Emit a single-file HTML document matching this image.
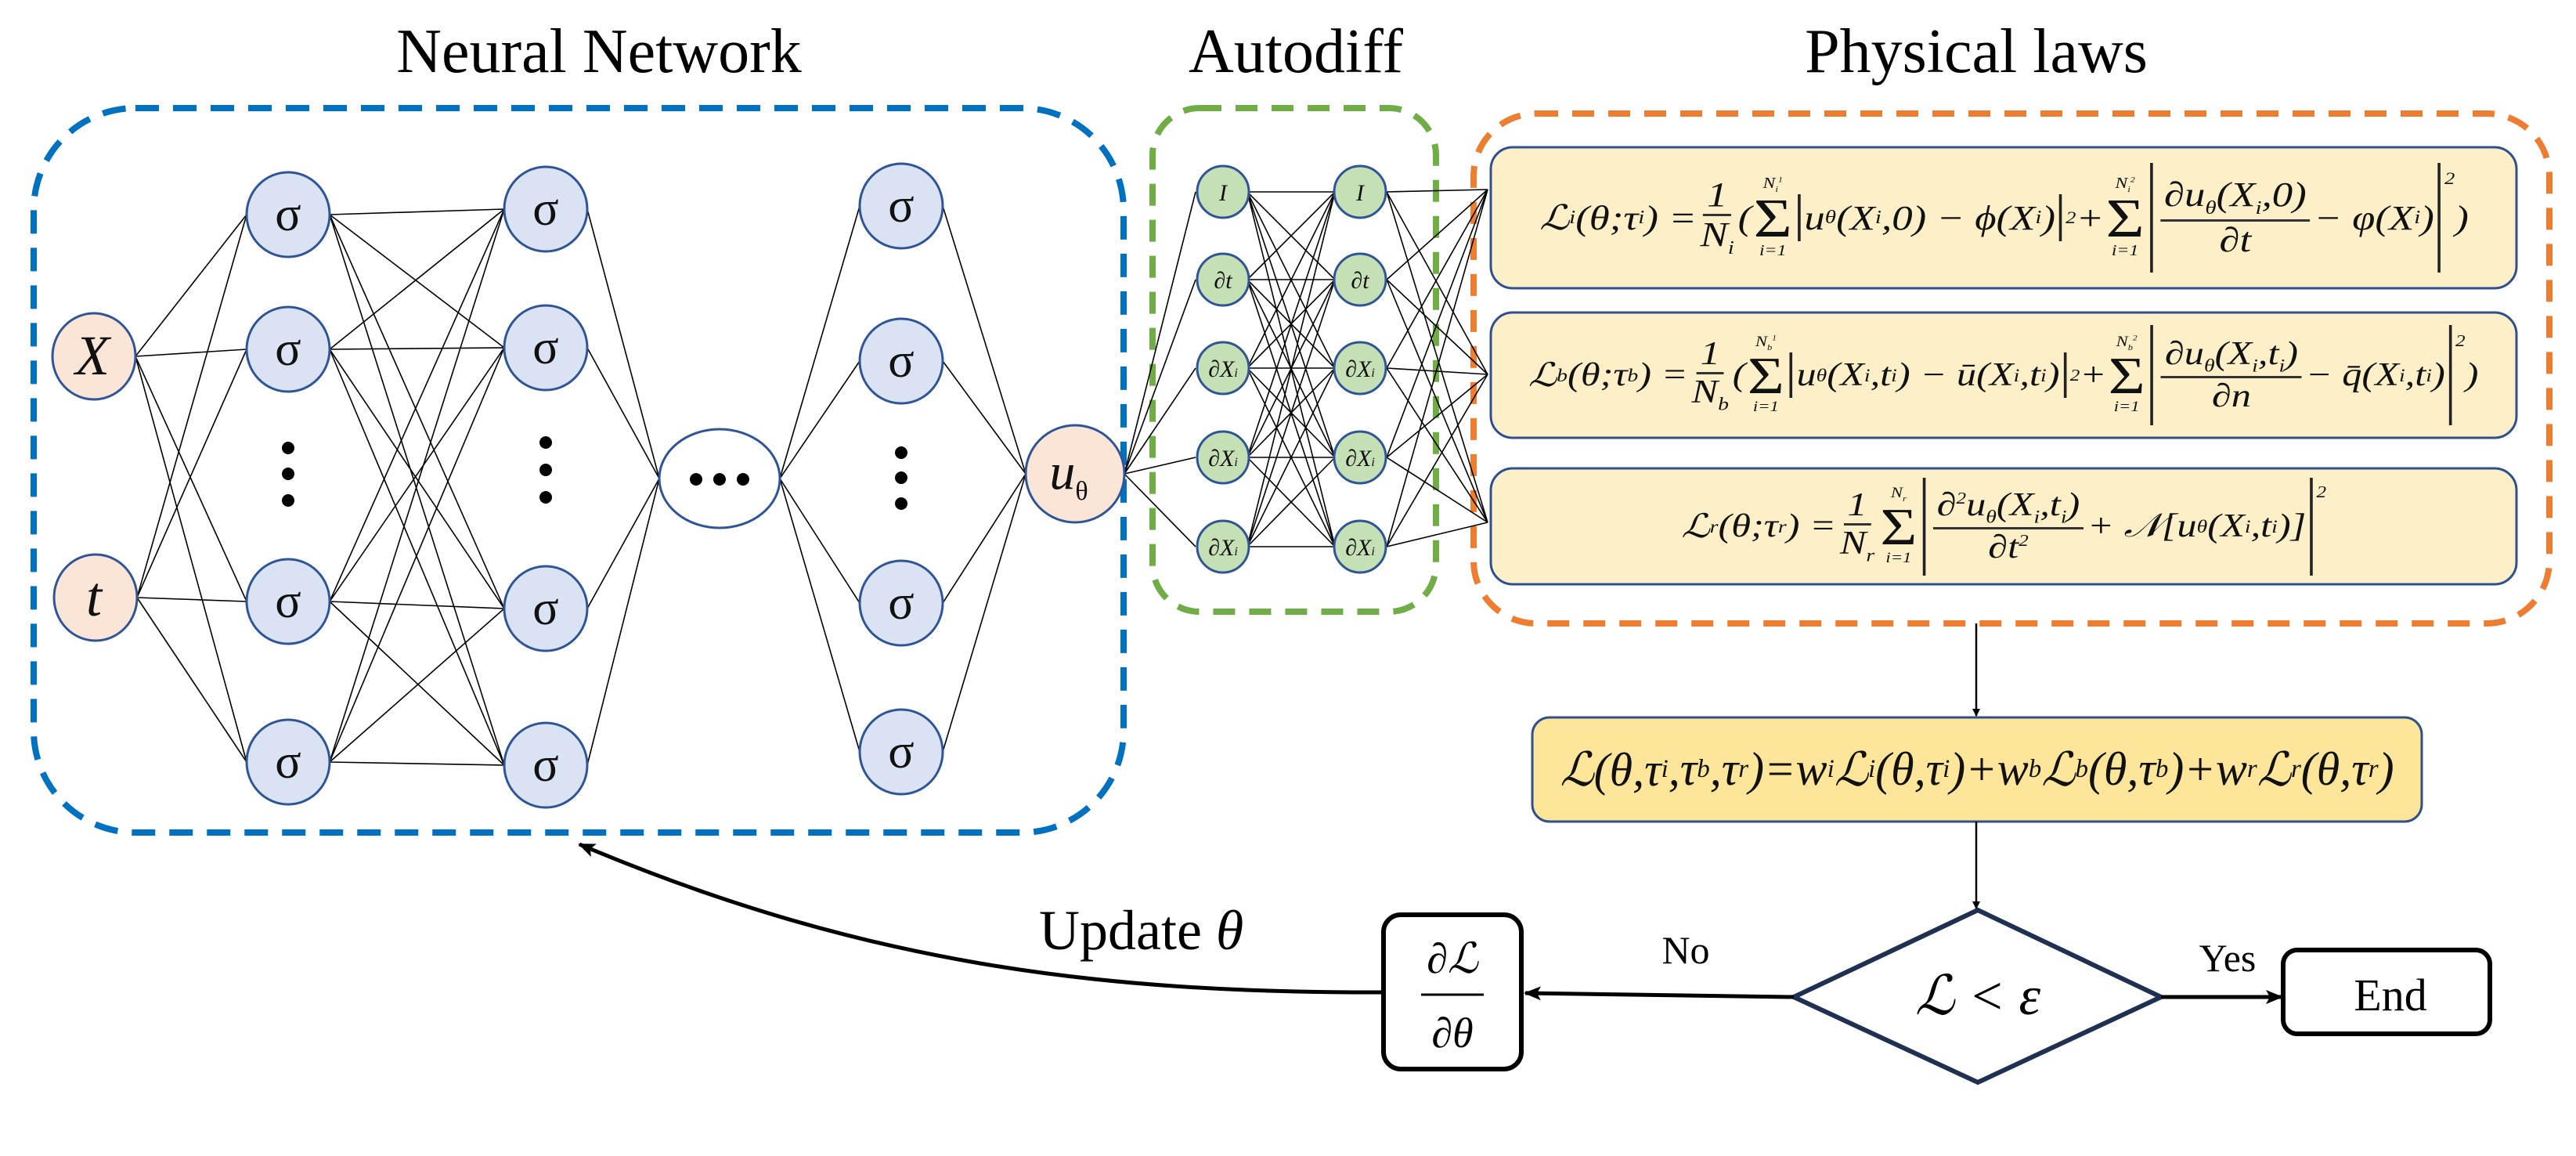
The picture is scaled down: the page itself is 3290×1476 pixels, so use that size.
<!DOCTYPE html>
<html><head><meta charset="utf-8"><style>
html,body{margin:0;padding:0;background:#fff;}
body{width:3290px;height:1476px;position:relative;overflow:hidden;font-family:"Liberation Serif","DejaVu Serif",serif;}
svg text{font-family:"Liberation Serif","DejaVu Serif",serif;}
.f{position:absolute;display:flex;align-items:center;justify-content:center;font-family:"Liberation Serif","DejaVu Serif",serif;font-style:italic;color:#111;white-space:nowrap;}
.f>span.in{display:inline-flex;align-items:center;}
.fr{display:inline-flex;flex-direction:column;align-items:center;vertical-align:middle;margin:0 4px;}
.fr .n{border-bottom:3px solid #333;padding:0 4px;line-height:1.1;}
.fr .d{line-height:1.1;}
.sg{display:inline-flex;flex-direction:column;align-items:center;vertical-align:middle;font-style:normal;margin:0 2px;}
.sg .s{font-size:1.6em;line-height:0.9;}
.sg .l{font-size:0.45em;line-height:1;font-style:italic;}
.bar{display:inline-block;width:3px;background:#222;vertical-align:middle;margin:0 4px;}
sub{font-size:0.55em;}
sup{font-size:0.5em;}
</style></head><body>
<svg width="3290" height="1476" style="position:absolute;left:0;top:0" xmlns="http://www.w3.org/2000/svg">
<defs>
<marker id="ah" markerWidth="10" markerHeight="10" refX="9" refY="5" orient="auto" markerUnits="userSpaceOnUse"><path d="M0,0 L10,5 L0,10 z" fill="#000"/></marker>
<marker id="ah2" markerWidth="22" markerHeight="18" refX="20" refY="9" orient="auto" markerUnits="userSpaceOnUse"><path d="M0,0 L22,9 L0,18 L5,9 z" fill="#000"/></marker>
</defs>
<text x="765" y="92" font-size="80" text-anchor="middle">Neural Network</text>
<text x="1655" y="92" font-size="80" text-anchor="middle">Autodiff</text>
<text x="2524" y="92" font-size="80" text-anchor="middle">Physical laws</text>

<rect x="43" y="138" width="1392" height="925" rx="130" fill="none" stroke="#0070c0" stroke-width="8" stroke-dasharray="30 18"/>
<rect x="1472" y="138" width="362" height="643" rx="60" fill="none" stroke="#70ad47" stroke-width="8" stroke-dasharray="28 18"/>
<rect x="1882" y="145" width="1374" height="651" rx="80" fill="none" stroke="#ed7d31" stroke-width="8" stroke-dasharray="28 18"/>

<g stroke="#000" stroke-width="1.6" fill="none">
<path d="M173 455L315 274M173 455L315 446M173 455L315 768M173 455L315 973M175 763L315 274M175 763L315 446M175 763L315 768M175 763L315 973"/>
<path d="M421 274L644 267M421 274L644 444M421 274L644 777M421 274L644 977M421 446L644 267M421 446L644 444M421 446L644 777M421 446L644 977M421 768L644 267M421 768L644 444M421 768L644 777M421 768L644 977M421 973L644 267M421 973L644 444M421 973L644 777M421 973L644 977"/>
<path d="M750 267L842 611M750 444L842 611M750 777L842 611M750 977L842 611"/>
<path d="M996 611L1098 263M996 611L1098 461M996 611L1098 770M996 611L1098 960"/>
<path d="M1204 263L1310 605M1204 461L1310 605M1204 770L1310 605M1204 960L1310 605"/>
<path d="M1436 605L1527 245M1436 605L1527 357M1436 605L1527 470M1436 605L1527 584M1436 605L1527 698"/>
<path d="M1593 245L1705 245M1593 245L1705 357M1593 245L1705 470M1593 245L1705 584M1593 245L1705 698M1593 357L1705 245M1593 357L1705 357M1593 357L1705 470M1593 357L1705 584M1593 357L1705 698M1593 470L1705 245M1593 470L1705 357M1593 470L1705 470M1593 470L1705 584M1593 470L1705 698M1593 584L1705 245M1593 584L1705 357M1593 584L1705 470M1593 584L1705 584M1593 584L1705 698M1593 698L1705 245M1593 698L1705 357M1593 698L1705 470M1593 698L1705 584M1593 698L1705 698"/>
<path d="M1771 245L1900 242M1771 357L1900 242M1771 470L1900 242M1771 584L1900 242M1771 698L1900 242M1771 245L1900 478M1771 357L1900 478M1771 470L1900 478M1771 584L1900 478M1771 698L1900 478M1771 245L1900 667M1771 357L1900 667M1771 470L1900 667M1771 584L1900 667M1771 698L1900 667"/>
</g>

<g stroke="#2f5597" stroke-width="3">
<ellipse cx="120" cy="455" rx="53" ry="55" fill="#fbe5d6"/>
<ellipse cx="122" cy="763" rx="53" ry="55" fill="#fbe5d6"/>
<ellipse cx="1373" cy="605" rx="63" ry="62" fill="#fbe5d6"/>
<g fill="#dae3f3">
<ellipse cx="368" cy="274" rx="53" ry="54"/><ellipse cx="368" cy="446" rx="53" ry="54"/><ellipse cx="368" cy="768" rx="53" ry="54"/><ellipse cx="368" cy="973" rx="53" ry="54"/>
<ellipse cx="697" cy="267" rx="53" ry="54"/><ellipse cx="697" cy="444" rx="53" ry="54"/><ellipse cx="697" cy="777" rx="53" ry="54"/><ellipse cx="697" cy="977" rx="53" ry="54"/>
<ellipse cx="1151" cy="263" rx="53" ry="54"/><ellipse cx="1151" cy="461" rx="53" ry="54"/><ellipse cx="1151" cy="770" rx="53" ry="54"/><ellipse cx="1151" cy="960" rx="53" ry="54"/>
</g>
<ellipse cx="919" cy="611" rx="77" ry="63" fill="#fff"/>
<g fill="#c5e0b4">
<circle cx="1562" cy="245" r="33"/><circle cx="1562" cy="357" r="33"/><circle cx="1562" cy="470" r="33"/><circle cx="1562" cy="584" r="33"/><circle cx="1562" cy="698" r="33"/>
<circle cx="1737" cy="245" r="33"/><circle cx="1737" cy="357" r="33"/><circle cx="1737" cy="470" r="33"/><circle cx="1737" cy="584" r="33"/><circle cx="1737" cy="698" r="33"/>
</g>
</g>

<g fill="#000">
<circle cx="368" cy="572" r="8"/><circle cx="368" cy="605" r="8"/><circle cx="368" cy="639" r="8"/>
<circle cx="697" cy="565" r="8"/><circle cx="697" cy="600" r="8"/><circle cx="697" cy="635" r="8"/>
<circle cx="1151" cy="578" r="8"/><circle cx="1151" cy="610" r="8"/><circle cx="1151" cy="643" r="8"/>
<circle cx="889" cy="612" r="8"/><circle cx="919" cy="612" r="8"/><circle cx="949" cy="612" r="8"/>
</g>

<g text-anchor="middle" fill="#111">
<g font-size="62">
<text x="368" y="294">σ</text><text x="368" y="466">σ</text><text x="368" y="788">σ</text><text x="368" y="993">σ</text>
<text x="697" y="287">σ</text><text x="697" y="464">σ</text><text x="697" y="797">σ</text><text x="697" y="997">σ</text>
<text x="1151" y="283">σ</text><text x="1151" y="481">σ</text><text x="1151" y="790">σ</text><text x="1151" y="980">σ</text>
</g>
<text x="118" y="478" font-size="72" font-style="italic">X</text>
<text x="120" y="786" font-size="72" font-style="italic">t</text>
<text x="1365" y="624" font-size="66" font-style="italic">u<tspan font-size="34" font-style="normal" dy="14">θ</tspan></text>
<g font-size="30" font-style="italic">
<text x="1562" y="256">I</text><text x="1562" y="368">∂t</text><text x="1562" y="481">∂X<tspan font-size="16">i</tspan></text><text x="1562" y="595">∂X<tspan font-size="16">i</tspan></text><text x="1562" y="709">∂X<tspan font-size="16">i</tspan></text>
<text x="1737" y="256">I</text><text x="1737" y="368">∂t</text><text x="1737" y="481">∂X<tspan font-size="16">i</tspan></text><text x="1737" y="595">∂X<tspan font-size="16">i</tspan></text><text x="1737" y="709">∂X<tspan font-size="16">i</tspan></text>
</g>
</g>

<g stroke="#2f4f8f" stroke-width="3" fill="#fdefc8">
<rect x="1904" y="188" width="1310" height="180" rx="28"/>
<rect x="1904" y="399" width="1310" height="160" rx="28"/>
<rect x="1904" y="598" width="1310" height="148" rx="28"/>
<rect x="1957" y="916" width="1136" height="133" rx="22" fill="#fde59a"/>
</g>

<g stroke="#000" stroke-width="2.5" fill="none">
<line x1="2524" y1="796" x2="2524" y2="914" marker-end="url(#ah)"/>
<line x1="2524" y1="1049" x2="2524" y2="1160" marker-end="url(#ah)"/>
</g>
<path d="M2526 1162 L2760 1273 L2526 1382 L2291 1273 Z" fill="#fff" stroke="#1f3050" stroke-width="6"/>
<text x="2526" y="1295" font-size="70" text-anchor="middle" font-style="italic">ℒ &lt; ε</text>
<g stroke="#000" stroke-width="5" fill="none">
<line x1="2291" y1="1273" x2="1948" y2="1268" marker-end="url(#ah2)"/>
<line x1="2760" y1="1273" x2="2914" y2="1273" marker-end="url(#ah2)"/>
<path d="M1767 1267 C 1400 1268, 1100 1230, 740 1078" marker-end="url(#ah2)"/>
</g>
<rect x="1767" y="1168" width="176" height="197" rx="22" fill="#fff" stroke="#000" stroke-width="6"/>
<rect x="2916" y="1213" width="264" height="107" rx="18" fill="#fff" stroke="#000" stroke-width="6"/>
<text x="3053" y="1290" font-size="58" text-anchor="middle">End</text>
<text x="1855" y="1242" font-size="54" text-anchor="middle" font-style="italic">∂ℒ</text>
<line x1="1815" y1="1270" x2="1895" y2="1270" stroke="#000" stroke-width="3"/>
<text x="1855" y="1337" font-size="54" text-anchor="middle" font-style="italic">∂θ</text>
<text x="2153" y="1230" font-size="50" text-anchor="middle">No</text>
<text x="2845" y="1240" font-size="50" text-anchor="middle">Yes</text>
<text x="1327" y="1212" font-size="72">Update <tspan font-style="italic">θ</tspan></text>
</svg>

<div class="f" style="left:1904px;top:188px;width:1310px;height:180px;font-size:44px;">
<span class="in" style="transform:scaleX(1.2)">ℒ<sub>i</sub>(θ;τ<sub>i</sub>) = <span class="fr"><span class="n">1</span><span class="d">N<sub>i</sub></span></span>(<span class="sg"><span class="l">N<sub>i</sub><sup>1</sup></span><span class="s">Σ</span><span class="l">i=1</span></span><span class="bar" style="height:60px"></span>u<sub>θ</sub>(X<sub>i</sub>,0) − ϕ(X<sub>i</sub>)<span class="bar" style="height:60px"></span><sup>2</sup> + <span class="sg"><span class="l">N<sub>i</sub><sup>2</sup></span><span class="s">Σ</span><span class="l">i=1</span></span><span class="bar" style="height:140px"></span><span class="fr"><span class="n">∂u<sub>θ</sub>(X<sub>i</sub>,0)</span><span class="d">∂t</span></span> − φ(X<sub>i</sub>)<span class="bar" style="height:140px"></span><sup style="position:relative;top:-50px">2</sup> )</span>
</div>
<div class="f" style="left:1904px;top:399px;width:1310px;height:160px;font-size:42px;">
<span class="in" style="transform:scaleX(1.2)">ℒ<sub>b</sub>(θ;τ<sub>b</sub>) = <span class="fr"><span class="n">1</span><span class="d">N<sub>b</sub></span></span>(<span class="sg"><span class="l">N<sub>b</sub><sup>1</sup></span><span class="s">Σ</span><span class="l">i=1</span></span><span class="bar" style="height:58px"></span>u<sub>θ</sub>(X<sub>i</sub>,t<sub>i</sub>) − ū(X<sub>i</sub>,t<sub>i</sub>)<span class="bar" style="height:58px"></span><sup>2</sup> + <span class="sg"><span class="l">N<sub>b</sub><sup>2</sup></span><span class="s">Σ</span><span class="l">i=1</span></span><span class="bar" style="height:128px"></span><span class="fr"><span class="n">∂u<sub>θ</sub>(X<sub>i</sub>,t<sub>i</sub>)</span><span class="d">∂n</span></span> − q̄(X<sub>i</sub>,t<sub>i</sub>)<span class="bar" style="height:128px"></span><sup style="position:relative;top:-44px">2</sup> )</span>
</div>
<div class="f" style="left:1904px;top:598px;width:1310px;height:148px;font-size:42px;">
<span class="in" style="transform:scaleX(1.2)">ℒ<sub>r</sub>(θ;τ<sub>r</sub>) = <span class="fr"><span class="n">1</span><span class="d">N<sub>r</sub></span></span><span class="sg"><span class="l">N<sub>r</sub></span><span class="s">Σ</span><span class="l">i=1</span></span><span class="bar" style="height:125px"></span><span class="fr"><span class="n">∂<sup>2</sup>u<sub>θ</sub>(X<sub>i</sub>,t<sub>i</sub>)</span><span class="d">∂t<sup>2</sup></span></span> + 𝒩[u<sub>θ</sub>(X<sub>i</sub>,t<sub>i</sub>)]<span class="bar" style="height:125px"></span><sup style="position:relative;top:-44px">2</sup></span>
</div>
<div class="f" style="left:1957px;top:916px;width:1136px;height:133px;font-size:60px;">
<span class="in">ℒ(θ,τ<sub>i</sub>,τ<sub>b</sub>,τ<sub>r</sub>)=w<sub>i</sub>ℒ<sub>i</sub>(θ,τ<sub>i</sub>)+w<sub>b</sub>ℒ<sub>b</sub>(θ,τ<sub>b</sub>)+w<sub>r</sub>ℒ<sub>r</sub>(θ,τ<sub>r</sub>)</span>
</div>
</body></html>
